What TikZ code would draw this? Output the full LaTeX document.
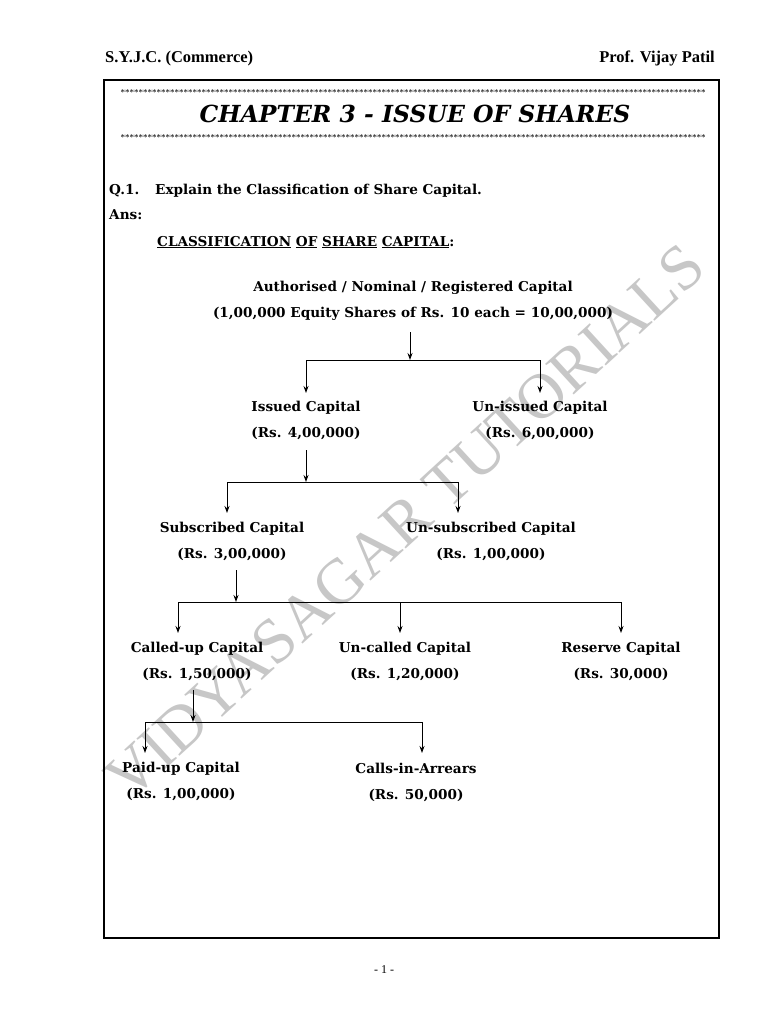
\documentclass[tikz,border=0pt]{standalone}
\usepackage{fontspec}
\setmainfont{DejaVu Serif}
\newfontfamily\hdfont{Liberation Serif}
\usetikzlibrary{arrows.meta}
\tikzset{
  txt/.style={font=\fontsize{13.6}{26}\selectfont\bfseries, align=center, inner sep=0pt},
  conn/.style={line width=1pt},
  arr/.style={line width=1pt, -{Stealth[length=7pt,width=5pt]}}
}
\begin{document}
\begin{tikzpicture}[x=1pt,y=-1pt]
\useasboundingbox (0,0) rectangle (768,1024);
\fill[white] (0,0) rectangle (768,1024);
% watermark
\node[rotate=42.5, text=black!22, font=\hdfont\fontsize{64}{64}\selectfont] (wm) at (405,522) {VIDYASAGAR TUTORIALS};
% header
\node[anchor=base west, font=\hdfont\bfseries\fontsize{16.5}{18}\selectfont, inner sep=0pt] (hl) at (105,63) {S.Y.J.C. (Commerce)};
\node[anchor=base east, font=\hdfont\bfseries\fontsize{16.5}{18}\selectfont, inner sep=0pt] (hr) at (715,63) {Prof. Vijay Patil};
\draw[line width=1.8pt] (104,80) rectangle (719,938);
\node[font=\hdfont\fontsize{9}{9}\selectfont, inner sep=0pt] (s1) at (413,93) {\foreach \i in {1,...,130}{*}};
\node[font=\hdfont\fontsize{9}{9}\selectfont, inner sep=0pt] (s2) at (413,138) {\foreach \i in {1,...,130}{*}};
\node[font=\bfseries\itshape\fontsize{23.5}{26}\selectfont, inner sep=0pt] (title) at (415,114) {CHAPTER 3 - ISSUE OF SHARES};
% question
\node[txt, anchor=base west] (q) at (109,195) {Q.1.};
\node[txt, anchor=base west] (qt) at (155,195) {Explain the Classification of Share Capital.};
\node[txt, anchor=base west] (ans) at (109,220) {Ans:};
\node[txt, anchor=base west] (cls) at (157,246) {\underline{CLASSIFICATION} \underline{OF} \underline{SHARE} \underline{CAPITAL}:};
% tree
\node[txt] (auth) at (413,301) {Authorised / Nominal / Registered Capital\\(1,00,000 Equity Shares of Rs. 10 each = 10,00,000)};
\node[txt] (iss) at (306,420) {Issued Capital\\(Rs. 4,00,000)};
\node[txt] (uniss) at (540,420) {Un-issued Capital\\(Rs. 6,00,000)};
\node[txt] (sub) at (232,541) {Subscribed Capital\\(Rs. 3,00,000)};
\node[txt] (unsub) at (491,541) {Un-subscribed Capital\\(Rs. 1,00,000)};
\node[txt] (call) at (197,661) {Called-up Capital\\(Rs. 1,50,000)};
\node[txt] (uncall) at (405,661) {Un-called Capital\\(Rs. 1,20,000)};
\node[txt] (res) at (621,661) {Reserve Capital\\(Rs. 30,000)};
\node[txt] (paid) at (181,781) {Paid-up Capital\\(Rs. 1,00,000)};
\node[txt] (arr) at (416,782) {Calls-in-Arrears\\(Rs. 50,000)};
\node[font=\hdfont\fontsize{12}{14}\selectfont] (pg) at (384,970) {- 1 -};
% connectors
\coordinate (a0) at (410,332); \coordinate (a1) at (410,360);
\draw[arr] (a0) -- (a1);
\draw[conn] (306,360) -- (540,360);
\draw[arr] (306,360) -- (306,393);
\draw[arr] (540,360) -- (540,393);
\coordinate (b0) at (306,450); \coordinate (b1) at (306,482);
\draw[arr] (b0) -- (b1);
\draw[conn] (227,482) -- (458,482);
\draw[arr] (227,482) -- (227,513);
\draw[arr] (458,482) -- (458,513);
\coordinate (c0) at (236,570); \coordinate (c1) at (236,602);
\draw[arr] (c0) -- (c1);
\draw[conn] (178,602) -- (621,602);
\draw[arr] (178,602) -- (178,633);
\draw[arr] (400,602) -- (400,633);
\draw[arr] (621,602) -- (621,633);
\coordinate (d0) at (193,690); \coordinate (d1) at (193,722);
\draw[arr] (d0) -- (d1);
\draw[conn] (145,722) -- (422,722);
\draw[arr] (145,722) -- (145,753);
\draw[arr] (422,722) -- (422,753);
\end{tikzpicture}
\end{document}
